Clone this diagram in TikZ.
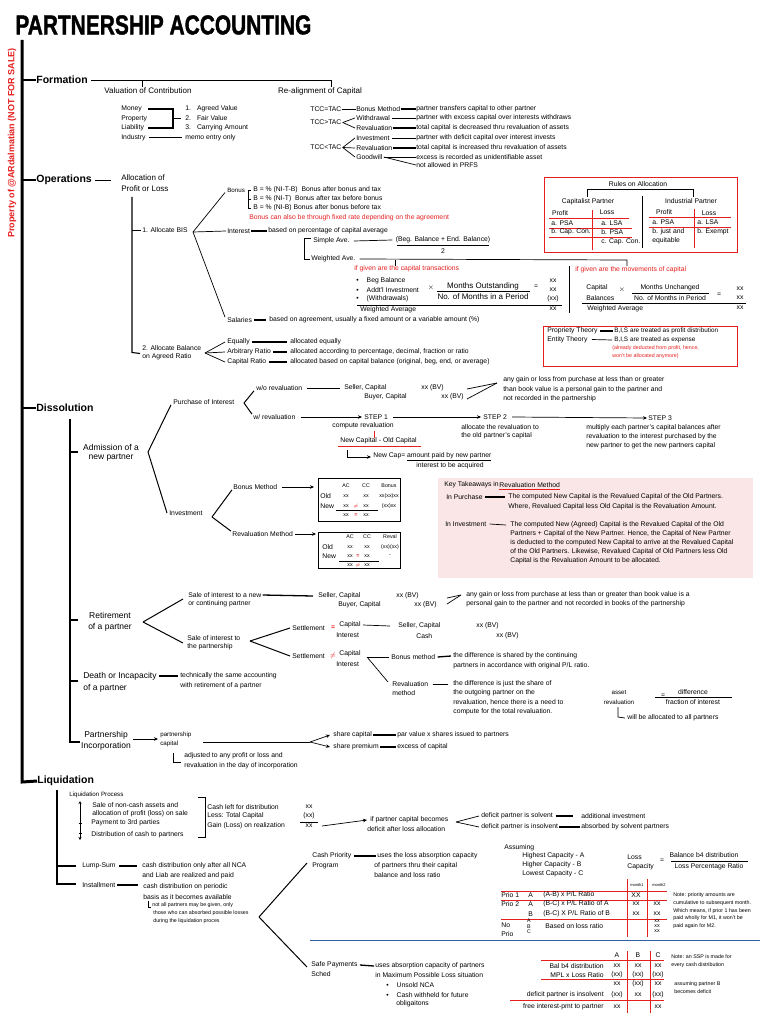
\documentclass[tikz,border=0pt]{standalone}
\usepackage{fontspec}
\setmainfont{Liberation Sans}
\newfontfamily\ttlfont[FakeBold=1.6]{Liberation Sans}
\usepackage{graphicx}
\usetikzlibrary{arrows.meta}
\definecolor{wred}{RGB}{230,30,30}
\definecolor{pinkbg}{RGB}{250,230,230}
\definecolor{lblue}{RGB}{45,95,165}
\newcommand\fz[1]{\fontsize{#1}{#1}\selectfont}
\tikzset{
  t/.style={anchor=west, inner sep=0pt, font=\fz{6.8}},
  tc/.style={t, anchor=center},
  tr/.style={t, anchor=east},
  tm/.style={t, font=\fz{8}},
  tmc/.style={tm, anchor=center},
  tl/.style={t, font=\fz{8.5}},
  tlc/.style={tl, anchor=center},
  ts/.style={t, font=\fz{6.2}},
  tsc/.style={ts, anchor=center},
  tx/.style={t, font=\fz{5.3}},
  txc/.style={tx, anchor=center},
  hd/.style={t, font=\fz{10.5}\bfseries},
  rd/.style={text=wred},
  thk/.style={line width=1.3pt},
  fk/.style={line width=1pt},
  arr/.style={-{Stealth[length=4pt,width=3.5pt]}},
  rl/.style={draw=wred, line width=0.8pt},
}
\begin{document}
\begin{tikzpicture}[x=1pt,y=-1pt,line width=0.7pt]
\useasboundingbox (0,0) rectangle (768,1024);
\fill[white] (0,0) rectangle (768,1024);

% ---------- title and watermark
\node[anchor=north west, inner sep=0pt] (title) at (15,15) {\resizebox{296pt}{19pt}{\ttlfont\bfseries PARTNERSHIP ACCOUNTING}};
\node[rotate=90, inner sep=0pt, text=wred, font=\fz{9}\bfseries] (wm) at (12,143) {Property of @ARdalmatian (NOT FOR SALE)};

% ---------- spine
\coordinate (sp0) at (22,40);
\coordinate (spF) at (22,80);
\coordinate (spO) at (22,180);
\coordinate (spD) at (22,408);
\coordinate (spL) at (22,782);
\node[hd] (form) at (36,80) {Formation};
\node[hd] (ops) at (36,180) {Operations};
\node[hd] (dis) at (36,408) {Dissolution};
\node[hd] (liq) at (37,781) {Liquidation};
\draw[line width=3pt] (sp0) -- (spL) -- (liq.west);
\draw[line width=1.6pt] (spF) -- (form.west);
\draw[line width=1.6pt] (spO) -- (ops.west);
\draw[line width=1.6pt] (spD) -- (dis.west);

% ---------- Formation
\coordinate (fA) at (142,80);
\coordinate (fB) at (331,80);
\draw ([xshift=3pt]form.east) -- (fB) -- ++(0,7);
\draw (fA) -- ++(0,7);
\node[tmc] (voc) at (148,91) {Valuation of Contribution};
\node[tmc] (rac) at (320,91) {Re-alignment of Capital};

\node[t] (money) at (121,109) {Money};
\node[t] (prop) at (121,118.5) {Property};
\node[t] (liab) at (121,128) {Liability};
\node[t] (indu) at (121,137.5) {Industry};
\node[t] (av) at (185,109) {1.\hspace{6pt}Agreed Value};
\node[t] (fv) at (185,118.5) {2.\hspace{6pt}Fair Value};
\node[t] (ca) at (185,128) {3.\hspace{6pt}Carrying Amount};
\node[t] (memo) at (185,137.5) {memo entry only};
\draw[line width=1.2pt] (148,109) -| (173,128) -- (148,128);
\draw (173,118.5) -- ([xshift=-4pt]fv.west);
\draw ([xshift=3pt]indu.east) -- ([xshift=-3pt]memo.west);

\node[t] (tcA) at (310,109) {TCC=TAC};
\node[t] (tcB) at (310,122.5) {TCC>TAC};
\node[t] (tcC) at (310,147.5) {TCC<TAC};
\node[t] (bmeth) at (356,109) {Bonus Method};
\node[t] (wdr) at (356,118) {Withdrawal};
\node[t] (rvA) at (356,128) {Revaluation};
\node[t] (invA) at (356,138) {Investment};
\node[t] (rvB) at (356,148) {Revaluation};
\node[t] (gw) at (356,157) {Goodwill};
\node[t] (dA) at (416,109) {partner transfers capital to other partner};
\node[t] (dB) at (416,118) {partner with excess capital over interests withdraws};
\node[t] (dC) at (416,128) {total capital is decreased thru revaluation of assets};
\node[t] (dD) at (416,138) {partner with deficit capital over interest invests};
\node[t] (dE) at (416,148) {total capital is increased thru revaluation of assets};
\node[t] (dF) at (416,157) {excess is recorded as unidentifiable asset};
\node[t] (dG) at (416,165) {not allowed in PRFS};
\draw (tcA.east) -- (bmeth.west);
\draw ([xshift=1pt]tcB.east) -- ([xshift=-1pt]wdr.west);
\draw ([xshift=1pt]tcB.east) -- ([xshift=-1pt]rvA.west);
\draw ([xshift=1pt]tcC.east) -- ([xshift=-1pt]invA.west);
\draw ([xshift=1pt]tcC.east) -- ([xshift=-1pt]rvB.west);
\draw ([xshift=1pt]tcC.east) -- ([xshift=-1pt]gw.west);
\draw[thk] (bmeth.east) -- (dA.west);
\draw ([xshift=2pt]wdr.east) -- (dB.west);
\draw[thk] (rvA.east) -- (dC.west);
\draw ([xshift=2pt]invA.east) -- (dD.west);
\draw[thk] (rvB.east) -- (dE.west);
\draw ([xshift=1pt]gw.east) -- (dF.west);
\draw ([xshift=1pt]gw.east) -- (dG.west);

% ---------- Operations
\draw ([xshift=3pt]ops.east) -- ++(16,0);
\node[tm] (aop1) at (121,178) {Allocation of};
\node[tm] (aop2) at (121,189) {Profit or Loss};
\node[t] (abis) at (142,230) {1. Allocate BIS};
\node[t] (abal1) at (142,348) {2. Allocate Balance};
\node[t] (abal2) at (142,357) {on Agreed Ratio};
\draw[line width=1.1pt] (132,197) -- (132,352.5) -- ([xshift=-2pt]abal1.west |- abal2.north);
\draw (132,230) -- ([xshift=-1pt]abis.west);

\coordinate (bisF) at (193,232);
\node[ts] (bon) at (227,190) {Bonus};
\node[t] (intr) at (227,231) {Interest};
\node[t] (sal) at (227,320) {Salaries};
\draw (bisF) -- ([xshift=-2pt]bon.south west);
\draw (bisF) -- ([xshift=-1pt]intr.west);
\draw (bisF) -- ([xshift=-2pt]sal.north west);

\draw (251,190) -- (248,190) -- (248,208) -- (251,208);
\draw (248,199) -- (251,199);
\node[t] (b1) at (253,190) {B = \% (NI-T-B)\ \ Bonus after bonus and tax};
\node[t] (b2) at (253,199) {B = \% (NI-T)\ \ Bonus after tax before bonus};
\node[t] (b3) at (253,208) {B = \% (NI-B) Bonus after bonus before tax};
\node[t,rd] (bred) at (249,218) {Bonus can also be through fixed rate depending on the agreement};
\node[t] (intd) at (268,231) {based on percentage of capital average};
\draw[thk] ([xshift=1pt]intr.east) -- ([xshift=-1pt]intd.west);

\draw (311,238) -- (304,238) -- (304,259) -- (310,259);
\node[t] (sav) at (313,241) {Simple Ave.};
\node[t] (wav) at (311,259) {Weighted Ave.};
\node[tc] (bbn) at (443,240) {(Beg. Balance + End. Balance)};
\draw (397,245.5) -- (489,245.5);
\node[tc] (bbd) at (443,251) {2};
\draw ([xshift=4pt]sav.east) -- ([xshift=-3pt]bbn.west);
\draw ([xshift=4pt]wav.east) -- (627,260) -- (627,266);
\draw (395,260) -- (395,266);

\node[t,rd] (cgt) at (354,269) {if given are the capital transactions};
\node[t,rd] (cgm) at (575,270) {if given are the movements of capital};
\draw (569,266) -- (569,313);
\node[t] (bu1) at (356,281) {\textbullet\hspace{8pt}Beg Balance};
\node[t] (bu2) at (356,290) {\textbullet\hspace{8pt}Addt'l Investment};
\node[t] (bu3) at (356,299) {\textbullet\hspace{8pt}(Withdrawals)};
\draw (357,305) -- (562,305);
\node[t] (wavg1) at (360,310) {Weighted Average};
\node[tc] (x1) at (431,288) {$\times$};
\node[tmc] (mo) at (483,286) {Months Outstanding};
\draw (437,291.5) -- (530,291.5);
\node[tmc] (nm) at (483,297) {No. of Months in a Period};
\node[tc] (eq1) at (536,287) {=};
\node[tc] (xa1) at (553,281) {xx};
\node[tc] (xa2) at (553,290) {xx};
\node[tc] (xa3) at (553,299) {(xx)};
\node[tc] (xa4) at (553,309) {xx};

\node[t] (capb1) at (586,288) {Capital};
\node[t] (capb2) at (586,298) {Balances};
\node[tc] (x2) at (622,290) {$\times$};
\node[tc] (mu) at (670,288) {Months Unchanged};
\draw (632,293) -- (709,293);
\node[tc] (nmp) at (670,298) {No. of Months in Period};
\node[tc] (eq2) at (719,295) {=};
\node[tc] (xb1) at (740,289) {xx};
\node[tc] (xb2) at (740,298) {xx};
\node[tc] (xb3) at (740,308) {xx};
\draw (582,303.5) -- (746,303.5);
\node[t] (wavg2) at (587,309) {Weighted Average};

% Rules on Allocation box
\draw[rl] (544,177) rectangle (737,252);
\node[tc] (roa) at (638,184) {Rules on Allocation};
\draw (587,197) -- (587,189) -- (693,189) -- (693,197);
\node[tc] (cpp) at (588,202) {Capitalist Partner};
\node[tc] (ipp) at (691,201) {Industrial Partner};
\draw (642,196) -- (642,248);
\node[tc] (cpr) at (560,213) {Profit};
\node[tc] (cls) at (607,212) {Loss};
\draw[rl] (592,210) -- (592,250);
\draw[rl] (549,218) -- (629,218);
\draw[rl] (549,228) -- (632,228);
\draw[rl] (549,237) -- (632,237);
\node[t] (c1) at (551,223) {a. PSA};
\node[t] (c2) at (551,232) {b. Cap. Con.};
\node[t] (c3) at (601,223) {a. LSA};
\node[t] (c4) at (601,232) {b. PSA};
\node[t] (c5) at (601,242) {c. Cap. Con.};
\node[tc] (ipr) at (664,212) {Profit};
\node[tc] (ils) at (709,213) {Loss};
\draw[rl] (694,209) -- (694,248);
\draw[rl] (649,217) -- (731,217);
\draw[rl] (649,227) -- (731,227);
\node[t] (i1) at (652,222) {a. PSA};
\node[t] (i2) at (697,222) {a. LSA};
\node[t] (i3) at (652,232) {b. just and};
\node[t] (i4) at (652,241) {equitable};
\node[t] (i5) at (697,232) {b. Exempt};

\node[t] (sald) at (269,320) {based on agreement, usually a fixed amount or a variable amount (\%)};
\draw[thk] ([xshift=2pt]sal.east) -- ([xshift=-3pt]sald.west);

% Propriety box
\draw[rl] (543,326) rectangle (737,366);
\node[t] (pt) at (547,331) {Propriety Theory};
\node[t] (et) at (547,339.5) {Entity Theory};
\node[t,font=\fz{6.4}] (ptd) at (614,331) {B,I,S are treated as profit distribution};
\node[t,font=\fz{6.4}] (etd) at (614,340) {B,I,S are treated as expense};
\node[tx,rd] (etr1) at (612,348) {(already deducted from profit, hence,};
\node[tx,rd] (etr2) at (612,356) {won't be allocated anymore)};
\draw[thk] ([xshift=2pt]pt.east) -- ([xshift=-1pt]ptd.west);
\draw ([xshift=4pt]et.east) -- ([xshift=-2pt]etd.west);

% Allocate balance
\coordinate (abF) at (205,353);
\node[t] (eqly) at (227,342) {Equally};
\node[t] (arbr) at (227,352) {Arbitrary Ratio};
\node[t] (capr) at (227,362) {Capital Ratio};
\node[t] (eqd) at (290,342) {allocated equally};
\node[t] (arbd) at (290,352) {allocated according to percentage, decimal, fraction or ratio};
\node[t] (caprd) at (290,362) {allocated based on capital balance (original, beg, end, or average)};
\draw (abF) -- ([xshift=-2pt]eqly.west);
\draw (abF) -- ([xshift=-2pt]arbr.west);
\draw (abF) -- ([xshift=-2pt]capr.west);
\draw[thk] ([xshift=2pt]eqly.east) -- ([xshift=-3pt]eqd.west);
\draw[thk] ([xshift=2pt]arbr.east) -- ([xshift=-3pt]arbd.west);
\draw[thk] ([xshift=2pt]capr.east) -- ([xshift=-3pt]caprd.west);

% ---------- Dissolution
\draw[line width=1.1pt] (70,419) -- (70,742) -- (80,742);
\draw[line width=1.1pt] (70,452) -- (78,452);
\draw[line width=1.1pt] (70,620) -- (78,620);
\draw[line width=1.1pt] (70,681) -- (78,681);

\node[tlc] (adm1) at (111,447) {Admission of a};
\node[tlc] (adm2) at (111,458) {new partner};
\coordinate (admF) at (148,452);
\node[t] (poi) at (173,402) {Purchase of Interest};
\node[t] (inv) at (169,513) {Investment};
\draw[fk] (admF) -- ([xshift=-2pt]poi.south west);
\draw[fk] (admF) -- ([xshift=-2pt]inv.west);

\coordinate (poiF) at (244,403);
\node[t] (wor) at (256,388) {w/o revaluation};
\node[t] (wr) at (253,417) {w/ revaluation};
\draw[fk] (poiF) -- ([xshift=-2pt]wor.south west);
\draw[fk] (poiF) -- ([xshift=-1pt]wr.north west);
\node[t] (sc1) at (344,388) {Seller, Capital};
\node[t] (bc1) at (364,397) {Buyer, Capital};
\node[t] (bv1) at (421,388) {xx (BV)};
\node[t] (bv2) at (441,397) {xx (BV)};
\draw ([xshift=5pt]wor.east) -- ([xshift=-4pt]sc1.west);
\coordinate (gl1) at (497,383);
\draw (467,389) -- (gl1);
\draw (467,399) -- (gl1);
\node[t] (gl1a) at (503,380) {any gain or loss from purchase at less than or greater};
\node[t] (gl1b) at (503,390) {than book value is a personal gain to the partner and};
\node[t] (gl1c) at (503,399) {not recorded in the partnership};

\node[t] (s1) at (364,417) {STEP 1};
\node[t] (s2) at (483,417) {STEP 2};
\node[t] (s3) at (648,418) {STEP 3};
\draw[arr] ([xshift=5pt]wr.east) -- ([xshift=-2pt]s1.west);
\draw[arr] ([xshift=5pt]s1.east) -- ([xshift=-2pt]s2.west);
\draw[arr] ([xshift=5pt]s2.east) -- ([xshift=-1pt]s3.west);
\node[tc] (s1d) at (363,425.5) {compute revaluation};
\node[t] (s2d1) at (461,427) {allocate the revaluation to};
\node[t] (s2d2) at (461,436) {the old partner's capital};
\node[t] (s3d1) at (586,428) {multiply each partner's capital balances after};
\node[t] (s3d2) at (586,437) {revaluation to the interest purchased by the};
\node[t] (s3d3) at (586,446) {new partner to get the new partners capital};
\draw[wred, line width=1pt] (374,431) -- (374,438);
\node[t] (ncoc) at (340,441) {New Capital - Old Capital};
\draw[wred, line width=0.9pt] (338,446.5) -- (421,446.5);
\node[t] (ncap) at (373,457) {New Cap= \underline{amount paid by new partner}};
\node[t] (ncap2) at (416,466) {interest to be acquired};
\draw[arr] (347,450) -- (347,457) -- ([xshift=-2pt]ncap.west);

\coordinate (invF) at (212,517);
\node[t] (bmt) at (233,487) {Bonus Method};
\node[t] (rmt) at (232,534) {Revaluation Method};
\draw[fk] (invF) -- ([xshift=-1pt]bmt.south west);
\draw[fk] (invF) -- ([xshift=-1pt]rmt.north west);

% box 1 (bonus)
\draw[line width=0.9pt] (318,478) rectangle (400,521);
\draw[arr] ([xshift=4pt]bmt.east) -- (314,487);
\node[txc] (k1a) at (346,486) {AC};
\node[txc] (k1b) at (366,486) {CC};
\node[txc] (k1c) at (389,486) {Bonus};
\node[t] (k1d) at (320,496) {Old};
\node[t] (k1e) at (320,506) {New};
\node[txc] (k1f) at (346,496) {xx};
\node[txc] (k1g) at (366,496) {xx};
\node[txc] (k1h) at (389,496) {xx(xx)xx};
\node[txc] (k1i) at (346,506) {xx};
\node[txc,rd] (k1j) at (356,506) {$\neq$};
\node[txc] (k1k) at (366,506) {xx};
\node[txc] (k1l) at (389,506) {(xx)xx};
\draw (336,510.5) -- (378,510.5);
\node[txc] (k1m) at (346,515) {xx};
\node[txc,rd] (k1n) at (356,515) {\textbf{=}};
\node[txc] (k1o) at (366,515) {xx};

% box 2 (revaluation)
\draw[line width=0.9pt] (318,532) rectangle (400,568);
\draw[arr] ([xshift=2pt]rmt.east) -- (316,534);
\node[txc] (k2a) at (350,537) {AC};
\node[txc] (k2b) at (367,537) {CC};
\node[txc] (k2c) at (390,537) {Reval};
\node[t] (k2d) at (322,547) {Old};
\node[t] (k2e) at (322,556) {New};
\node[txc] (k2f) at (350,547) {xx};
\node[txc] (k2g) at (367,547) {xx};
\node[txc] (k2h) at (390,547) {(xx)(xx)};
\node[txc] (k2i) at (350,556) {xx};
\node[txc,rd] (k2j) at (358,556) {\textbf{=}};
\node[txc] (k2k) at (367,556) {xx};
\node[txc] (k2l) at (390,556) {-};
\draw (339,561) -- (379,561);
\node[txc] (k2m) at (350,565) {xx};
\node[txc,rd] (k2n) at (358,565) {$\neq$};
\node[txc] (k2o) at (367,565) {xx};

% Key takeaways
\fill[pinkbg] (438,478) rectangle (753,578);
\node[t] (kt1) at (444,485) {Key Takeaways in };
\node[t] (kt2) at (kt1.east) {Revaluation Method};
\draw[wred, line width=0.9pt] ([yshift=-1.5pt]kt2.south west) -- ([yshift=-1.5pt]kt2.south east);
\node[t] (kp) at (446,497) {In Purchase};
\node[t] (kp1) at (508,497) {The computed New Capital is the Revalued Capital of the Old Partners.};
\node[t] (kp2) at (508,507) {Where, Revalued Capital less Old Capital is the Revaluation Amount.};
\draw[thk] ([xshift=2pt]kp.east) -- ([xshift=-3pt]kp1.west);
\node[t] (ki) at (445,524) {In Investment};
\node[t] (ki1) at (510,525) {The computed New (Agreed) Capital is the Revalued Capital of the Old};
\node[t] (ki2) at (510,534) {Partners + Capital of the New Partner. Hence, the Capital of New Partner};
\node[t] (ki3) at (510,543) {is deducted to the computed New Capital to arrive at the Revalued Capital};
\node[t] (ki4) at (510,552) {of the Old Partners. Likewise, Revalued Capital of Old Partners less Old};
\node[t] (ki5) at (510,561) {Capital is the Revaluation Amount to be allocated.};
\draw ([xshift=3pt]ki.east) -- ([xshift=-4pt]ki1.west);

% Retirement
\node[tlc] (ret1) at (110,615) {Retirement};
\node[tlc] (ret2) at (110,627) {of a partner};
\coordinate (retF) at (143,622);
\node[t] (soi1) at (188,595) {Sale of interest to a new};
\node[t] (soi2) at (188,604) {or continuing partner};
\node[t] (sop1) at (187,638) {Sale of interest to};
\node[t] (sop2) at (187,647) {the partnership};
\draw[fk] (retF) -- (183,599);
\draw[fk] (retF) -- (183,643);
\node[t] (sc2) at (318,596) {Seller, Capital};
\node[t] (bc2) at (338,605) {Buyer, Capital};
\node[t] (bv3) at (396,596) {xx (BV)};
\node[t] (bv4) at (414,605) {xx (BV)};
\draw[thk] ([xshift=1pt]soi1.east) -- ([xshift=-5pt]sc2.west);
\coordinate (gl2) at (461,595);
\draw (447,598) -- (gl2);
\draw (447,604) -- (gl2);
\node[t] (gl2a) at (466,595) {any gain or loss from purchase at less than or greater than book value is a};
\node[t] (gl2b) at (466,604) {personal gain to the partner and not recorded in books of the partnership};

\coordinate (sopF) at (250,641);
\node[t] (st1) at (292,628) {Settlement};
\node[t] (st2) at (292,656) {Settlement};
\draw[fk] (sopF) -- ([xshift=-2pt]st1.west);
\draw[fk] (sopF) -- ([xshift=-2pt]st2.west);
\node[tc,rd] (st1e) at (333,628) {\textbf{=}};
\node[tc,rd] (st2e) at (333,656) {$\neq$};
\node[t] (ci1a) at (339,625) {Capital};
\node[t] (ci1b) at (336,635) {Interest};
\node[t] (ci2a) at (339,654) {Capital};
\node[t] (ci2b) at (336,664) {Interest};
\node[t] (sc3) at (398,626) {Seller, Capital};
\node[t] (cash3) at (416,636) {Cash};
\node[t] (bv5) at (476,626) {xx (BV)};
\node[t] (bv6) at (496,636) {xx (BV)};
\draw ([xshift=2pt]ci1a.east) -- ([xshift=-8pt]sc3.west);
\coordinate (ciF) at (367,657);
\node[t] (bmd) at (391,657) {Bonus method};
\node[t] (rvm1) at (392,684) {Revaluation};
\node[t] (rvm2) at (392,693) {method};
\draw (ciF) -- ([xshift=-2pt]bmd.west);
\draw (ciF) -- (388,682);
\node[t] (bmdd1) at (453,656) {the difference is shared by the continuing};
\node[t] (bmdd2) at (453,666) {partners in accordance with original P/L ratio.};
\draw[thk] ([xshift=2pt]bmd.east) -- ([xshift=-2pt]bmdd1.west);
\node[t] (rvd1) at (453,684) {the difference is just the share of};
\node[t] (rvd2) at (453,693) {the outgoing partner on the};
\node[t] (rvd3) at (453,702) {revaluation, hence there is a need to};
\node[t] (rvd4) at (453,712) {compute for the total revaluation.};
\draw ([xshift=4pt]rvm1.east) -- ([xshift=-5pt]rvd1.west);
\node[tsc] (asr1) at (619,693) {asset};
\node[tsc] (asr2) at (619,702) {revaluation};
\node[tc] (eq3) at (663,696) {=};
\node[tc] (dif) at (693,692) {difference};
\draw (655,697) -- (732,697);
\node[tc] (foi) at (693,702.5) {fraction of interest};
\node[t] (wba) at (627,718) {will be allocated to all partners};
\draw (618,707) -- (618,717) -- ([xshift=-2pt]wba.west);

% Death
\node[tl] (dth1) at (83,676) {Death or Incapacity};
\node[tl] (dth2) at (83,688) {of a partner};
\node[t] (dthd1) at (180,676) {technically the same accounting};
\node[t] (dthd2) at (180,686) {with retirement of a partner};
\draw[thk] ([xshift=2pt]dth1.east) -- ([xshift=-2pt]dthd1.west);

% Partnership incorporation
\node[tlc] (pi1) at (106,735) {Partnership};
\node[tlc] (pi2) at (106,746) {Incorporation};
\node[ts] (pc1) at (160,735) {partnership};
\node[ts] (pc2) at (160,744) {capital};
\draw[arr] (133,739) -- ([xshift=-2pt]pc1.west |- 0,739);
\coordinate (pcF) at (310,742);
\draw (203,742) -- (pcF);
\node[t] (shc) at (333,735) {share capital};
\node[t] (shp) at (333,747) {share premium};
\draw[arr] (pcF) -- ([xshift=-3pt]shc.west);
\draw[arr] (pcF) -- ([xshift=-3pt]shp.west);
\node[t] (shcd) at (397,735) {par value x shares issued to partners};
\node[t] (shpd) at (397,747) {excess of capital};
\draw[thk] ([xshift=1pt]shc.east) -- ([xshift=-1pt]shcd.west);
\draw[thk] ([xshift=1pt]shp.east) -- ([xshift=-1pt]shpd.west);
\node[t] (adj1) at (184,756) {adjusted to any profit or loss and};
\node[t] (adj2) at (184,766) {revaluation in the day of incorporation};
\draw (173,753) -- (173,762) -- ([xshift=-3pt]adj2.west |- 0,762);

% ---------- Liquidation
\draw[line width=1.1pt] (57,790) -- (57,884) -- (76,884);
\draw[line width=1.1pt] (57,866) -- (76,866);
\node[ts] (lp) at (69,795) {Liquidation Process};
\draw[{Stealth[length=3pt,width=3pt]}-{Stealth[length=3pt,width=3pt]}] (80,801) -- (80,840);
\draw (78.5,823) -- (81.5,823);
\draw (78.5,833) -- (81.5,833);
\node[t] (lp1) at (92,805) {Sale of non-cash assets and};
\node[t] (lp2) at (92,814) {allocation of profit (loss) on sale};
\node[t] (lp3) at (91,823) {Payment to 3rd parties};
\node[t] (lp4) at (91,835) {Distribution of cash to partners};
\draw (198,797) -- (205,797) -- (205,837) -- (198,837);
\node[t] (cl1) at (207,807) {Cash left for distribution};
\node[t] (cl2) at (207,816) {Less: Total Capital};
\node[t] (cl3) at (207,826) {Gain (Loss) on realization};
\node[tc] (cx1) at (309,807) {xx};
\node[tc] (cx2) at (309,816) {(xx)};
\node[tc] (cx3) at (309,826) {xx};
\draw (300,822) -- (318,822);
\node[t] (ipc1) at (370,820) {if partner capital becomes};
\node[t] (ipc2) at (367,829) {deficit after loss allocation};
\draw[arr] (322,826) -- ([xshift=-3pt]ipc1.west);
\coordinate (ipcF) at (456,822);
\node[t] (dps) at (481,816) {deficit partner is solvent};
\node[t] (dpi) at (481,827) {deficit partner is insolvent};
\draw (ipcF) -- ([xshift=-2pt]dps.west);
\draw (ipcF) -- ([xshift=-2pt]dpi.west);
\node[t] (dpsd) at (581,816) {additional investment};
\node[t] (dpid) at (581,827) {absorbed by solvent partners};
\draw[thk] ([xshift=3pt]dps.east) -- ([xshift=-8pt]dpsd.west);
\draw[thk] ([xshift=1pt]dpi.east) -- ([xshift=-1pt]dpid.west);

\node[t] (lsum) at (82,866) {Lump-Sum};
\node[t] (lsd1) at (142,866) {cash distribution only after all NCA};
\node[t] (lsd2) at (142,876) {and Liab are realized and paid};
\draw[thk] ([xshift=3pt]lsum.east) -- ([xshift=-5pt]lsd1.west);
\node[t] (inst) at (82,885) {Installment};
\node[t] (isd1) at (143,887) {cash distribution on periodic};
\node[t] (isd2) at (143,897) {basis as it becomes available};
\draw[thk] ([xshift=1pt]inst.east) -- ([xshift=-5pt]isd1.west |- 0,885);
\node[tx] (isn1) at (152,905) {not all partners may be given, only};
\node[tx] (isn2) at (153,913) {those who can absorbed possible losses};
\node[tx] (isn3) at (153,921) {during the liquidation proces};
\draw (148,901) -- (148,907) -- ([xshift=-1pt]isn1.west |- 0,907);

\coordinate (insF) at (259,917);
\node[t] (cpp1) at (312,856) {Cash Priority};
\node[t] (cpp2) at (312,866) {Program};
\node[t] (sps1) at (311,965) {Safe Payments};
\node[t] (sps2) at (311,974) {Sched};
\draw[fk] (insF) -- (307,863);
\draw[fk] (insF) -- (307,967);
\node[t] (cpd1) at (377,856) {uses the loss absorption capacity};
\node[t] (cpd2) at (374,866) {of partners thru their capital};
\node[t] (cpd3) at (374,875) {balance and loss ratio};
\draw[thk] ([xshift=2pt]cpp1.east) -- ([xshift=-1pt]cpd1.west);

\node[t] (asm) at (504,848) {Assuming};
\node[t] (asm1) at (522,856) {Highest Capacity - A};
\node[t] (asm2) at (522,865) {Higher Capacity - B};
\node[t] (asm3) at (522,874) {Lowest Capacity - C};
\node[t] (lc1) at (627,857) {Loss};
\node[t] (lc2) at (627,867) {Capacity};
\node[tc] (eq4) at (662,861) {=};
\node[tc] (lcn) at (704,855) {Balance b4 distribution};
\draw (671,861) -- (748,861);
\node[tc] (lcd) at (709,867) {Loss Percentage Ratio};

% cash priority table
\node[txc,font=\fz{4}] (mh1) at (637,885) {month1};
\node[txc,font=\fz{4}] (mh2) at (659,885) {month2};
\draw[rl] (627,879) -- (627,937);
\draw[rl] (647,879) -- (647,937);
\draw[rl] (501,891.5) -- (667,891.5);
\draw[rl] (501,900.5) -- (667,900.5);
\draw[rl] (501,919) -- (667,919);
\node[t] (pr1) at (501,895) {Prio 1};
\node[t] (pr1a) at (528,895) {A};
\node[t] (pr1b) at (543,895) {(A-B) x P/L Ratio};
\node[tc] (pr1c) at (636,895) {XX};
\node[t] (pr2) at (501,904) {Prio 2};
\node[t] (pr2a) at (528,904) {A};
\node[t] (pr2b) at (543,904) {(B-C) x P/L Ratio of A};
\node[tc] (pr2c) at (636,904) {xx};
\node[tc] (pr2d) at (657,904) {xx};
\node[t] (pr3a) at (528,914) {B};
\node[t] (pr3b) at (543,914) {(B-C) X P/L Ratio of B};
\node[tc] (pr3c) at (636,914) {xx};
\node[tc] (pr3d) at (657,914) {xx};
\node[t] (np1) at (501,925) {No};
\node[t] (np2) at (501,934) {Prio};
\node[txc] (npa) at (529,921) {A};
\node[txc] (npb) at (529,926.5) {B};
\node[txc] (npc) at (529,932) {C};
\node[t] (npd) at (545,926) {Based on loss ratio};
\node[txc] (npx1) at (657,921.5) {xx};
\node[txc] (npx2) at (657,926.5) {xx};
\node[txc] (npx3) at (657,931.5) {xx};
\node[tx] (nt1) at (673,895) {Note: priority amounts are};
\node[tx] (nt2) at (673,903) {cumulative to subsequent month.};
\node[tx] (nt3) at (673,911) {Which means, if prior 1 has been};
\node[tx] (nt4) at (673,918) {paid wholly for M1, it won't be};
\node[tx] (nt5) at (673,926) {paid again for M2.};

\draw[lblue, line width=1pt] (310,940) -- (760,940);

% safe payments
\node[t] (spd1) at (375,966) {uses absorption capacity of partners};
\node[t] (spd2) at (375,975) {in Maximum Possible Loss situation};
\draw[thk] ([xshift=2pt]sps1.east) -- ([xshift=-1pt]spd1.west);
\node[t] (spb1) at (386,985.5) {\textbullet\hspace{8pt}Unsold NCA};
\node[t] (spb2) at (386,995) {\textbullet\hspace{8pt}Cash withheld for future};
\node[t] (spb3) at (396,1004) {obligaitons};

\node[tc] (ssA) at (617,955) {A};
\node[tc] (ssB) at (638,955) {B};
\node[tc] (ssC) at (658,955) {C};
\draw[rl] (627,951) -- (627,1013);
\draw[rl] (650,951) -- (650,1013);
\draw[rl] (541,960) -- (664,960);
\draw[rl] (541,979) -- (664,979);
\draw[rl] (510,1000) -- (664,1000);
\node[tr] (sr1) at (604,966) {Bal b4 distribution};
\node[tr] (sr2) at (604,975) {MPL x Loss Ratio};
\node[tr] (sr4) at (604,995) {deficit partner is insolvent};
\node[tr] (sr5) at (604,1007) {free interest-pmt to partner};
\node[tc] (v11) at (617,966) {xx};
\node[tc] (v12) at (638,966) {xx};
\node[tc] (v13) at (658,966) {xx};
\node[tc] (v21) at (617,975) {(xx)};
\node[tc] (v22) at (638,975) {(xx)};
\node[tc] (v23) at (658,975) {(xx)};
\node[tc] (v31) at (617,983.5) {xx};
\node[tc] (v32) at (638,983.5) {(xx)};
\node[tc] (v33) at (658,983.5) {xx};
\node[tc] (v41) at (617,995) {(xx)};
\node[tc] (v42) at (638,995) {xx};
\node[tc] (v43) at (658,995) {(xx)};
\node[tc] (v51) at (617,1007) {xx};
\node[tc] (v53) at (658,1007) {xx};
\node[tx] (sn1) at (671,957) {Note: an SSP is made for};
\node[tx] (sn2) at (671,965) {every cash distribution};
\node[tx] (sn3) at (674,984) {assuming partner B};
\node[tx] (sn4) at (674,992) {becomes deficit};

\end{tikzpicture}
\end{document}
